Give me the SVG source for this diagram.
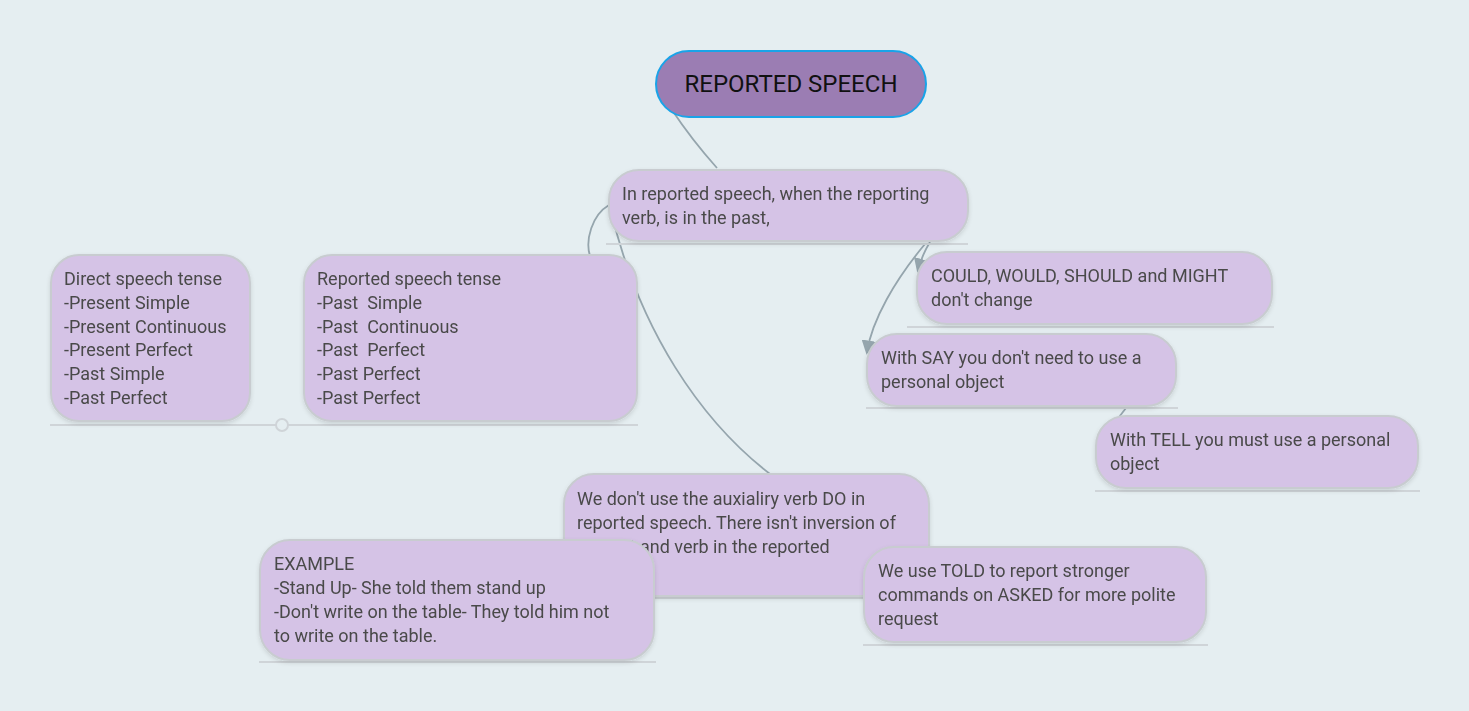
<svg xmlns="http://www.w3.org/2000/svg" width="1469" height="711" viewBox="0 0 1469 711">
<style>
.n{fill:#d5c3e6;stroke:#c8ccd0;stroke-width:2}
.t{font-family:Roboto,"Noto Sans",sans-serif;font-size:18px;fill:#4a4a4a}
.u{stroke:#cfd4d8;stroke-width:2}
.c{fill:none;stroke:#95a5ad;stroke-width:1.8}
</style>
<defs>
<marker id="a" viewBox="0 0 10 10" refX="8" refY="5" markerWidth="8" markerHeight="8" orient="auto"><path d="M0,0 L10,5 L0,10 z" fill="#95a5ad"/></marker>
<filter id="s" x="-10%" y="-10%" width="120%" height="130%"><feDropShadow dx="0" dy="2" stdDeviation="2" flood-color="#000" flood-opacity="0.12"/></filter>
</defs>
<rect width="1469" height="711" fill="#e5eef1"/>
<g id="connectors">
<path class="c" d="M672,110 Q692,140 717,168"/>
<path class="c" d="M609,205 C592,215 585,240 590,256"/>
<path class="c" d="M612,215 C640,330 700,420 770,474"/>
<path class="c" d="M930,242 Q922,255 918,270" marker-end="url(#a)"/>
<path class="c" d="M925,244 C895,280 872,320 867,352" marker-end="url(#a)"/>
<path class="c" d="M1126,408 L1116,421"/>
<line class="u" x1="50" y1="425" x2="638" y2="425"/>
<circle cx="282" cy="425" r="6" fill="#e5eef1" stroke="#cfd4d8" stroke-width="2"/>
<line class="u" x1="606" y1="244" x2="968" y2="244"/>
<line class="u" x1="907" y1="327" x2="1274" y2="327"/>
<line class="u" x1="866" y1="408" x2="1178" y2="408"/>
<line class="u" x1="1095" y1="491" x2="1420" y2="491"/>
<line class="u" x1="563" y1="598" x2="930" y2="598"/>
<line class="u" x1="863" y1="645" x2="1208" y2="645"/>
<line class="u" x1="259" y1="662" x2="656" y2="662"/>
</g>
<g id="root"><rect x="656" y="51" width="270" height="66" rx="33" fill="#9b7db3" stroke="#1aa3e8" stroke-width="2"/><text x="791" y="92" text-anchor="middle" font-family="Roboto,sans-serif" font-size="24" fill="#111">REPORTED SPEECH</text></g>
<g id="n1" filter="url(#s)"><rect class="n" x="609" y="170" width="359" height="71" rx="30"/><text class="t" x="622" y="200">In reported speech, when the reporting<tspan x="622" dy="24">verb, is in the past,</tspan></text></g>
<g id="direct" filter="url(#s)"><rect class="n" x="51" y="255" width="199" height="166" rx="28"/><text class="t" x="64" y="285">Direct speech tense<tspan x="64" dy="23.8">-Present Simple</tspan><tspan x="64" dy="23.8">-Present Continuous</tspan><tspan x="64" dy="23.8">-Present Perfect</tspan><tspan x="64" dy="23.8">-Past Simple</tspan><tspan x="64" dy="23.8">-Past Perfect</tspan></text></g>
<g id="reported" filter="url(#s)"><rect class="n" x="304" y="255" width="333" height="166" rx="28"/><text class="t" x="317" y="285" xml:space="preserve">Reported speech tense<tspan x="317" dy="23.8">-Past  Simple</tspan><tspan x="317" dy="23.8">-Past  Continuous</tspan><tspan x="317" dy="23.8">-Past  Perfect</tspan><tspan x="317" dy="23.8">-Past Perfect</tspan><tspan x="317" dy="23.8">-Past Perfect</tspan></text></g>
<g id="could" filter="url(#s)"><rect class="n" x="917" y="252" width="355" height="72" rx="30"/><text class="t" x="931" y="282">COULD, WOULD, SHOULD and MIGHT<tspan x="931" dy="24">don't change</tspan></text></g>
<g id="say" filter="url(#s)"><rect class="n" x="867" y="334" width="309" height="72" rx="30"/><text class="t" x="881" y="364">With SAY you don't need to use a<tspan x="881" dy="24">personal object</tspan></text></g>
<g id="tell" filter="url(#s)"><rect class="n" x="1096" y="416" width="322" height="72" rx="30"/><text class="t" x="1110" y="446">With TELL you must use a personal<tspan x="1110" dy="24">object</tspan></text></g>
<g id="do" filter="url(#s)"><rect class="n" x="564" y="474" width="365" height="122" rx="30"/><text class="t" x="577" y="505">We don't use the auxialiry verb DO in<tspan x="577" dy="24">reported speech. There isn't inversion of</tspan><tspan x="577" dy="24">subject and verb in the reported</tspan></text></g>
<g id="told" filter="url(#s)"><rect class="n" x="864" y="547" width="342" height="95" rx="30"/><text class="t" x="878" y="577">We use TOLD to report stronger<tspan x="878" dy="24">commands on ASKED for more polite</tspan><tspan x="878" dy="24">request</tspan></text></g>
<g id="example" filter="url(#s)"><rect class="n" x="260" y="540" width="394" height="120" rx="30"/><text class="t" x="274" y="570">EXAMPLE<tspan x="274" dy="24">-Stand Up- She told them stand up</tspan><tspan x="274" dy="24">-Don't write on the table- They told him not</tspan><tspan x="274" dy="24">to write on the table.</tspan></text></g>
</svg>
